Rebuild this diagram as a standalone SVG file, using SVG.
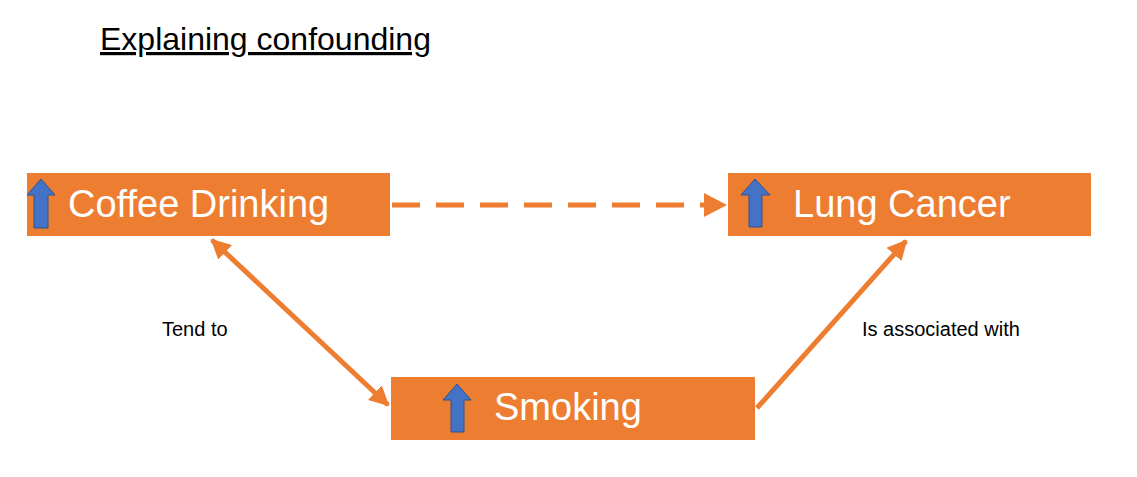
<svg xmlns="http://www.w3.org/2000/svg" width="1137" height="477" viewBox="0 0 1137 477">
<style>
.box{fill:#ED7D31}
.lbl{font-family:"Liberation Sans",Arial,sans-serif;font-size:38px;fill:#fff}
.small{font-family:"Liberation Sans",Arial,sans-serif;font-size:20px;fill:#000}
.ico{fill:#4472C4;stroke:#2F528F;stroke-width:1}
.con{stroke:#ED7D31;stroke-width:5;fill:none}
</style>
<defs>
<marker id="ah" viewBox="0 0 10 10" refX="9" refY="5" markerWidth="4" markerHeight="4" orient="auto-start-reverse" markerUnits="strokeWidth"><path d="M0,0L10,5L0,10z" fill="#ED7D31"/></marker>
</defs>
<rect width="1137" height="477" fill="#fff"/>
<text x="100" y="50" font-family="Liberation Sans,Arial,sans-serif" font-size="32" text-decoration="underline">Explaining confounding</text>
<g id="coffee"><rect class="box" x="27" y="173" width="363" height="63"/><path class="ico" d="M34,228V195H27L41,179L55,195H48V228Z"/><text class="lbl" x="68" y="217">Coffee Drinking</text></g>
<g id="lung"><rect class="box" x="728" y="173" width="363" height="63"/><path class="ico" d="M749,227V195H741L755,179L770,195H762V227Z"/><text class="lbl" x="793" y="217">Lung Cancer</text></g>
<g id="smoking"><rect class="box" x="391" y="377" width="364" height="63"/><path class="ico" d="M451,432V400H443L457,384L471,400H464V432Z"/><text class="lbl" x="494" y="420">Smoking</text></g>
<g id="connectors">
<line class="con" x1="392" y1="205" x2="712" y2="205" stroke-dasharray="28,16"/>
<path d="M704,193L727,205L704,217z" fill="#ED7D31"/>
<line class="con" x1="212" y1="240" x2="388" y2="405" marker-start="url(#ah)" marker-end="url(#ah)"/>
<line class="con" x1="757" y1="408" x2="906" y2="241" marker-end="url(#ah)"/>
<text class="small" x="162" y="336">Tend to</text>
<text class="small" x="862" y="336">Is associated with</text>
</g>
</svg>
